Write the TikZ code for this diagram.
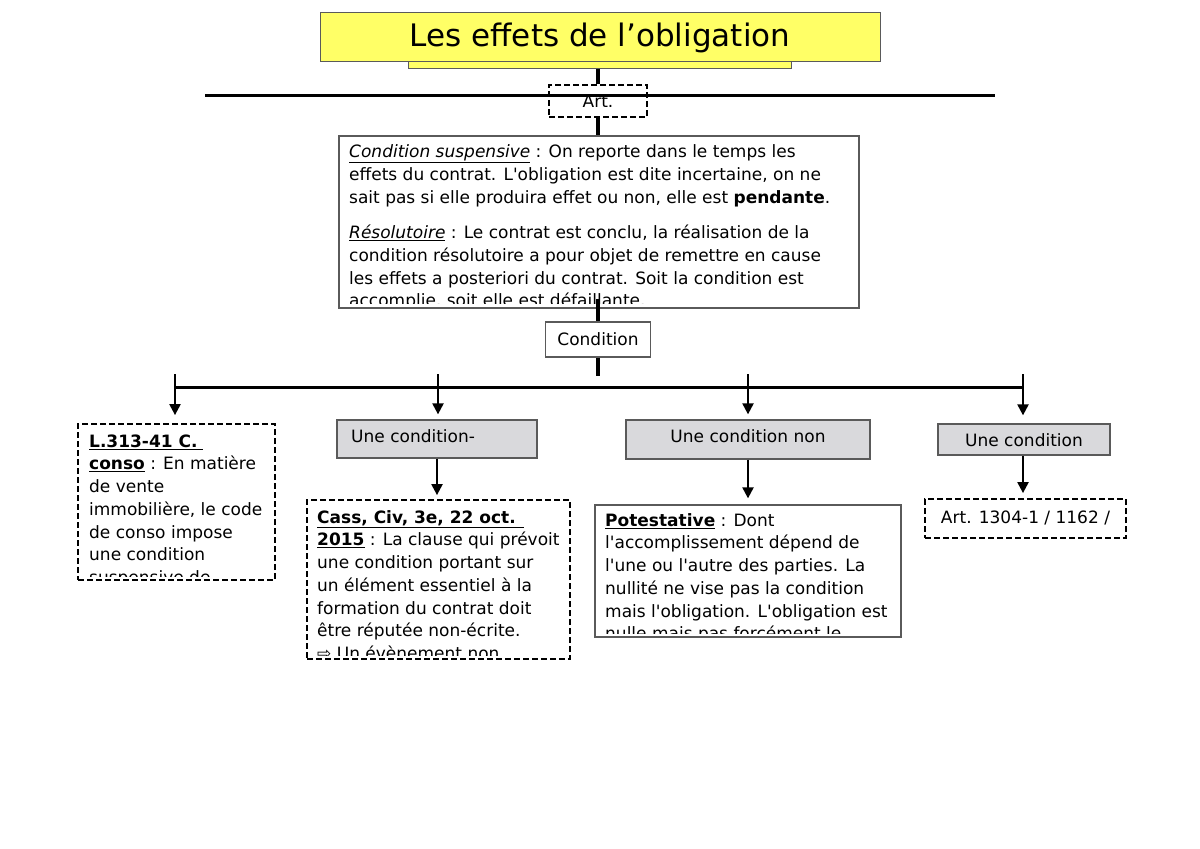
\documentclass[tikz,border=0pt]{standalone}
\usepackage{fontspec}
\newfontfamily\dv{DejaVu Sans}
\usetikzlibrary{arrows.meta}
\definecolor{ttlyellow}{RGB}{255,255,102}
\definecolor{boxgray}{RGB}{217,217,220}
\definecolor{edgegray}{RGB}{90,90,90}
\newcommand\fl{\rule{0pt}{18pt}}
\begin{document}
\begin{tikzpicture}[x=1pt,y=-1pt,
  hline/.style={line width=3pt},
  conn/.style={line width=3.2pt},
  arr/.style={line width=2.2pt,-{Triangle[length=11pt,width=11pt]}},
  dbox/.style={draw=black,line width=1.8pt,dash pattern=on 6pt off 3pt,inner sep=0pt},
  sbox/.style={draw=edgegray,line width=1.3pt,fill=white,inner sep=0pt},
  gbox/.style={draw=edgegray,line width=1.3pt,fill=boxgray,inner sep=0pt},
  ybox/.style={draw=edgegray,line width=1pt,fill=ttlyellow,inner sep=0pt},
  txt/.style={font=\dv\fontsize{17}{22.7}\selectfont,inner sep=0pt,align=left},
]
\useasboundingbox[fill=white] (0,0) rectangle (1200,849);

% title
\node[ybox,minimum width=383pt,minimum height=18pt] (under) at (599.5,59) {};
\node[ybox,minimum width=560pt,minimum height=49pt,font=\dv\fontsize{31}{36}\selectfont] (title) at (600,36.5) {};
\node[font=\dv\fontsize{31}{36}\selectfont,inner sep=0pt,anchor=base] (ttltxt) at (600,46) {Les effets de l’obligation};

% top bar
\coordinate (hl) at (205,95);
\coordinate (hr) at (995,95);
\draw[hline] (hl) -- (hr);
\node[dbox,minimum width=98pt,minimum height=32pt] (art) at (598,101) {};
\node[txt,anchor=base] (arttxt) at (598,107) {Art.};
\draw[conn] (art.north |- under.south) -- (art.north);

% main box
\node[sbox,minimum width=520pt,minimum height=172pt] (main) at (599,222) {};
\begin{scope}
\clip ([shift={(1pt,-1pt)}]main.north west) rectangle ([shift={(-1pt,5pt)}]main.south east);
\node[txt,anchor=north west] (maintxt) at (349,139.5) {\fl\underline{\textit{Condition suspensive}} : On reporte dans le temps les\\
effets du contrat. L'obligation est dite incertaine, on ne\\
sait pas si elle produira effet ou non, elle est \textbf{pendante}.\\[12.9pt]
\underline{\textit{Résolutoire}} : Le contrat est conclu, la réalisation de la\\
condition résolutoire a pour objet de remettre en cause\\
les effets a posteriori du contrat. Soit la condition est\\
accomplie, soit elle est défaillante.};
\end{scope}
\draw[conn] (art.south) -- (art.south |- main.north);

% condition
\node[sbox,minimum width=105pt,minimum height=35pt] (cond) at (598,339.5) {};
\node[txt,anchor=base] (condtxt) at (598,345) {Condition};
\draw[conn] ([yshift=10pt]cond.north |- main.south) -- (cond.north);
\coordinate (cj) at (598,376);
\draw[line width=4pt] (cond.south) -- (cj);

% bus
\coordinate (a1) at (175,374);
\coordinate (a2) at (438,374);
\coordinate (a3) at (748,374);
\coordinate (a4) at (1023,374);
\coordinate (bus1) at (175,387);
\coordinate (bus4) at (1023,387);
\draw[hline] (bus1) -- (bus4);

% level boxes
\node[dbox,minimum width=197pt,minimum height=156pt] (b1) at (176.5,502) {};
\begin{scope}
\clip ([shift={(1pt,-1pt)}]b1.north west) rectangle ([shift={(-1pt,4pt)}]b1.south east);
\node[txt,anchor=north west] (b1txt) at (89,429) {\fl\underline{\textbf{L.313-41 C. }}\\
\underline{\textbf{conso}} : En matière\\
de vente\\
immobilière, le code\\
de conso impose\\
une condition\\
suspensive de};
\end{scope}

\node[gbox,minimum width=200pt,minimum height=38pt] (g2) at (437,439) {};
\node[txt,anchor=base west] (g2txt) at (351,442) {Une condition-};

\node[gbox,minimum width=244pt,minimum height=39pt] (g3) at (748,439.5) {};
\node[txt,anchor=base] (g3txt) at (748,442) {Une condition non};

\node[gbox,minimum width=172pt,minimum height=31pt] (g4) at (1024,439.5) {};
\node[txt,anchor=base] (g4txt) at (1024,446) {Une condition};

\draw[arr,shorten >=8pt] (a1) -- (a1 |- b1.north);
\draw[arr,shorten >=5pt] (a2) -- (a2 |- g2.north);
\draw[arr,shorten >=5pt] (a3) -- (a3 |- g3.north);
\draw[arr,shorten >=8pt] (a4) -- (a4 |- g4.north);

% bottom boxes
\node[dbox,minimum width=263pt,minimum height=159pt] (b5) at (438.5,579.5) {};
\begin{scope}
\clip ([shift={(1pt,-1pt)}]b5.north west) rectangle ([shift={(-1pt,4pt)}]b5.south east);
\node[txt,anchor=north west] (b5txt) at (317,505) {\fl\underline{\textbf{Cass, Civ, 3e, 22 oct. }}\\
\underline{\textbf{2015}} : La clause qui prévoit\\
une condition portant sur\\
un élément essentiel à la\\
formation du contrat doit\\
être réputée non-écrite.\\
⇨ Un évènement non};
\end{scope}

\node[sbox,minimum width=306pt,minimum height=132pt] (b6) at (748,571) {};
\begin{scope}
\clip ([shift={(1pt,-1pt)}]b6.north west) rectangle ([shift={(-1pt,4pt)}]b6.south east);
\node[txt,anchor=north west] (b6txt) at (605,508) {\fl\underline{\textbf{Potestative}} : Dont\\
l'accomplissement dépend de\\
l'une ou l'autre des parties. La\\
nullité ne vise pas la condition\\
mais l'obligation. L'obligation est\\
nulle mais pas forcément le};
\end{scope}

\node[dbox,minimum width=201pt,minimum height=39pt] (b7) at (1025.5,518.5) {};
\node[txt,anchor=base] (b7txt) at (1025.5,523) {Art. 1304-1 / 1162 /};

\draw[arr,shorten >=4pt] (g2.south) -- (g2.south |- b5.north);
\draw[arr,shorten >=6pt] (g3.south) -- (g3.south |- b6.north);
\draw[arr,shorten >=5pt] (g4.south -| a4) -- (a4 |- b7.north);
\end{tikzpicture}
\end{document}
